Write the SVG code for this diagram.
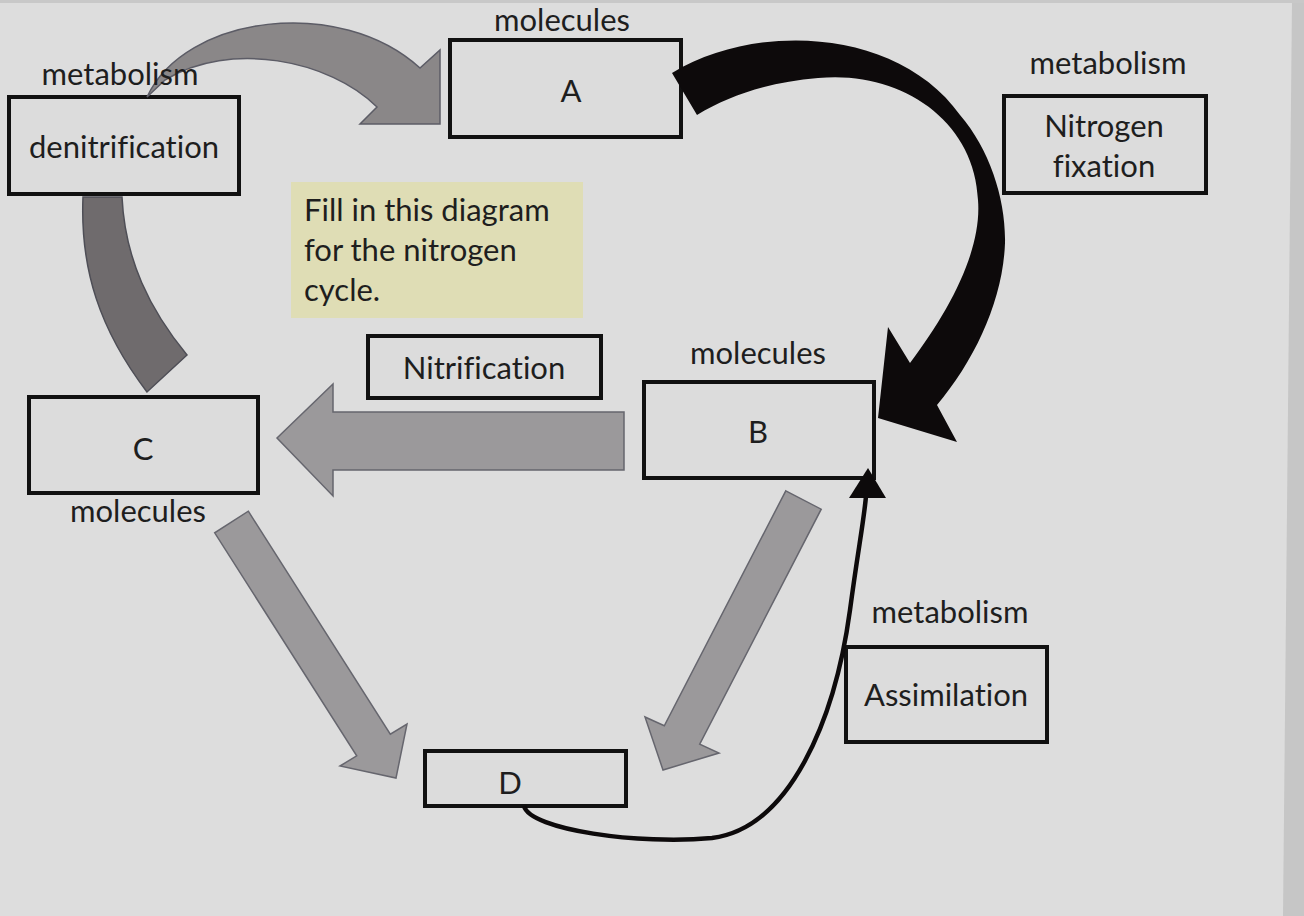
<svg xmlns="http://www.w3.org/2000/svg" width="1304" height="916" viewBox="0 0 1304 916">
<style>
  .box { fill: #dcdcdc; stroke: #111; stroke-width: 4; }
  .t { font-family: Lato, "Open Sans", sans-serif; font-size: 31px; fill: #1e1e1e; font-variant-ligatures: none; font-feature-settings: "liga" 0; }
  .c { text-anchor: middle; }
  .g1 { fill: #8a8788; stroke: #5c5c66; stroke-width: 1.5; }
  .g2 { fill: #6f6b6d; stroke: #4e4e56; stroke-width: 1.5; }
  .g3 { fill: #9b999b; stroke: #66666e; stroke-width: 1.5; }
  .blk { fill: #0d0a0b; }
</style>
<rect x="0" y="0" width="1304" height="916" fill="#dddddd"/>
<polygon points="1292,0 1304,0 1304,916 1283,916" fill="#c6c6c6"/>
<rect x="0" y="0" width="1304" height="3" fill="#c8c8c8"/>

<g id="nodes">
  <g id="node-A"><rect class="box" x="450" y="40" width="231" height="97"/><text class="t c" x="571" y="102">A</text></g>
  <g id="node-denitrification"><rect class="box" x="9" y="97" width="230" height="97"/><text class="t c" x="124" y="158">denitrification</text></g>
  <g id="node-fixation"><rect class="box" x="1004" y="96" width="202" height="97"/><text class="t c" x="1104" y="137">Nitrogen</text><text class="t c" x="1104" y="177">fixation</text></g>
  <g id="node-note"><rect x="291" y="182" width="292" height="136" fill="#dfddb5"/>
    <text class="t" x="304" y="221">Fill in this diagram</text>
    <text class="t" x="304" y="261">for the nitrogen</text>
    <text class="t" x="304" y="301">cycle.</text></g>
  <g id="node-nitrification"><rect class="box" x="368" y="336" width="233" height="62"/><text class="t c" x="484" y="379">Nitrification</text></g>
  <g id="node-B"><rect class="box" x="644" y="382" width="230" height="96"/><text class="t c" x="758" y="443">B</text></g>
  <g id="node-C"><rect class="box" x="29" y="397" width="229" height="96"/><text class="t c" x="143" y="460">C</text></g>
  <g id="node-D"><rect class="box" x="425" y="751" width="201" height="55"/><text class="t c" x="510" y="794">D</text></g>
  <g id="node-assimilation"><rect class="box" x="846" y="647" width="201" height="95"/><text class="t c" x="946" y="706">Assimilation</text></g>
</g>

<g id="connectors">
  <path class="g1" d="M147,97 C185,15 340,-5 420,68 L440,50 L440,124 L360,124 L377,107 C330,60 230,40 165,80 Z"/>
  <path class="g2" d="M83,197 C80,270 100,330 147,392 L187,355 C150,310 125,260 122,197 Z"/>
  <polygon class="g3" points="624,412 333,412 333,384 277,438 333,496 333,470 624,470"/>
  <polygon class="g3" points="248.3,511.2 390.3,734.2 407,724 396,778 340,766 356.7,755.8 214.7,532.8"/>
  <polygon class="g3" points="785.8,490.8 821.2,509.2 699.7,744.2 719,753 663,770 645,717 664.3,725.8"/>
  <path class="blk" d="M672,73 C760,20 900,30 960,115 C990,150 1006,200 1005,243 C1003,300 975,360 937,405 L957,442 L878,418 L888,327 L910,363 C950,310 982,250 978,200 C975,120 900,70 818,78 C770,82 730,95 697,115 Z"/>
  <path d="M524,806 C530,830 640,845 712,838 C790,828 835,720 850,610 C858,550 864,520 866,496" fill="none" stroke="#0d0a0b" stroke-width="4.5"/>
  <polygon class="blk" points="868,468 849,498 886,498"/>
</g>

<g id="labels">
  <text class="t c" x="562" y="31">molecules</text>
  <text class="t c" x="120" y="85">metabolism</text>
  <text class="t c" x="1108" y="74">metabolism</text>
  <text class="t c" x="758" y="364">molecules</text>
  <text class="t c" x="138" y="522">molecules</text>
  <text class="t c" x="950" y="623">metabolism</text>
</g>
</svg>
